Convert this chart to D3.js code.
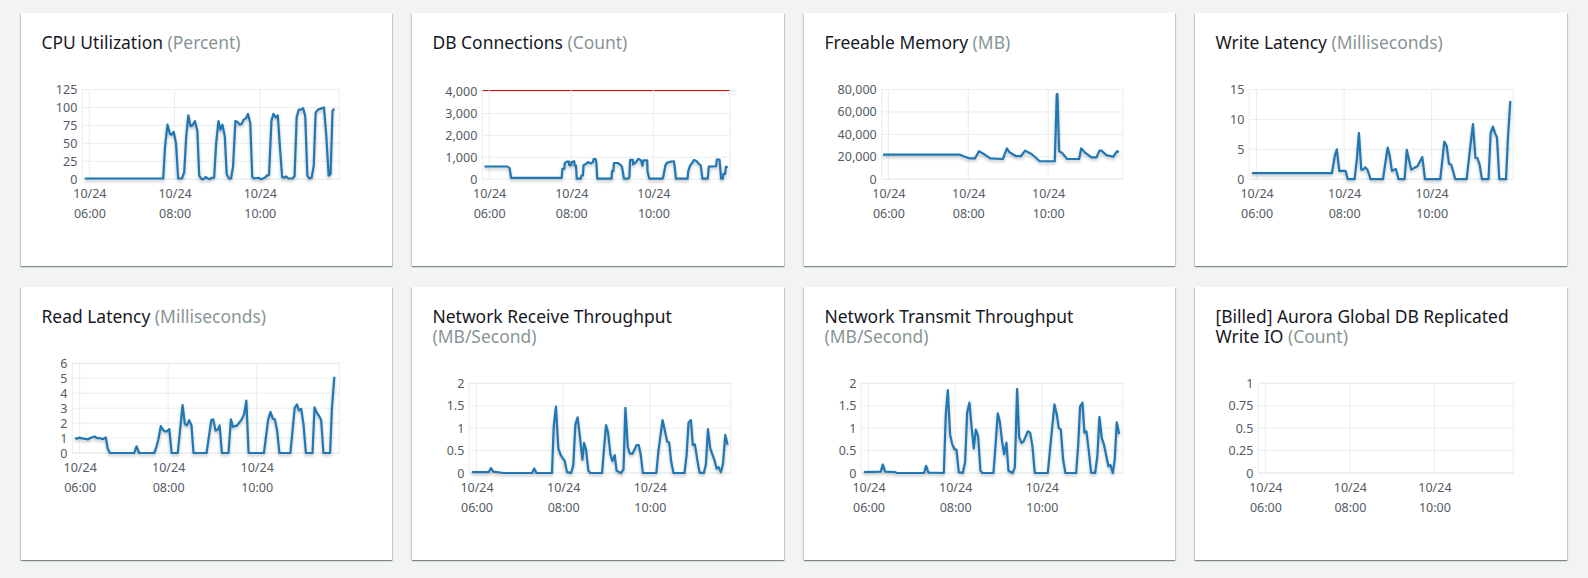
<!DOCTYPE html>
<html><head><meta charset="utf-8">
<script src="https://cdn.jsdelivr.net/npm/d3@7/dist/d3.min.js"></script>
<style>
html,body{margin:0;padding:0;background:#f2f3f3;width:1588px;height:578px;overflow:hidden}
body{position:relative;font-family:"Noto Sans",sans-serif}
.card{position:absolute;background:#fff;box-shadow:0 1px 1px 0 rgba(0,28,36,.3),1px 1px 1px 0 rgba(0,28,36,.15),-1px 1px 1px 0 rgba(0,28,36,.15)}
.title{position:absolute;left:20.5px;top:19px;width:335px;font-size:17.45px;line-height:20px;color:#16191f}
.title span{color:#879596}
svg{position:absolute;left:0;top:0}
.tick text{font-family:"Noto Sans",sans-serif;font-size:12.5px;fill:#545b64}
.domain{display:none}
.grid line{stroke:#eaeded;stroke-width:1}
.frame{fill:none;stroke:#eaeded;stroke-width:1}
.series{fill:none;stroke:#1f77b4;stroke-width:2.2;stroke-linejoin:round;filter:drop-shadow(0 2px 1.5px rgba(0,0,0,.25))}
.limit{stroke:#e00000;stroke-width:1}
</style></head><body>
<script>
// Time ticks, in minutes after 06:00 on 10/24
const xDomainMinutes = [-10, 352];
const xTickMinutes = [0, 120, 240];
const xTickDate = "10/24";

// Series: [minutes after 06:00, value]
const cpuPoints = [[-6.5,1],[104,1],[106.5,45],[110,76],[113.5,63],[116,62],[118.7,66],[122,50],[125,1],[130.4,1],[133.6,10],[136.4,60],[139.3,89],[142.5,74],[145.3,75],[148.6,81],[152,68],[154.7,5],[158,0],[160.7,0],[163.6,3],[167,1],[169.6,0],[172.4,2],[175.7,2],[178.5,50],[181.8,81],[184.6,69],[187.4,76],[190.7,60],[193.4,7],[196.7,1],[199.5,1],[202.3,17],[205.6,81],[208.4,80],[211.7,76],[214.5,77],[217.3,83],[220.6,85],[223.4,91],[226.6,78],[229.4,3],[232,1],[238,2],[241.6,0],[247,2],[250,5],[253,6],[256.5,82],[259.3,91],[262.6,86],[265.4,89],[268,50],[271.5,3],[274.3,2],[277,4],[280.4,1],[286,1],[289,4],[292,87],[295,97],[298,97],[301,99],[304,88],[307,5],[310,1],[313,2],[316,19],[318.7,93],[322,97],[325,98],[330.4,100],[333.6,62],[337,5],[339.7,7],[342.5,96],[345.3,98]];
const connPoints = [[-6.8,580],[26.8,580],[30,500],[32,60],[106,60],[107,470],[110,480],[110.5,730],[113.6,800],[116.6,800],[117,640],[120,640],[120.5,780],[124.4,820],[125,620],[127,620],[128,30],[134,30],[135,170],[137,170],[138,640],[141.5,700],[144.4,780],[149,720],[151.7,780],[152.7,920],[155.6,920],[156.6,780],[158,30],[179,30],[179.5,370],[181.5,370],[182.4,740],[188,740],[191,680],[194,580],[197,30],[204,30],[205,130],[206,880],[210,880],[210.5,680],[214.6,780],[218,930],[222,860],[224,620],[225.5,860],[231,860],[231.5,340],[234,30],[253.7,30],[254.6,130],[257.5,620],[259.5,740],[264,790],[270,820],[271,610],[273,30],[290,30],[291,370],[293.6,620],[296.6,740],[299.5,880],[303,830],[306,720],[309.3,620],[311.7,30],[319.5,30],[321,570],[331.7,590],[332.7,900],[336.6,900],[337.6,560],[339,30],[341.5,30],[342.4,240],[345,240],[345.9,560],[348.8,560]];
const connLimit = [[-10,4050],[352,4050]];
const memoryPoints = [[-8,22000],[107,22000],[113,20500],[122,18500],[130,18500],[136,25000],[144.6,22000],[153,18500],[172,18000],[178,27500],[182,24000],[192,20500],[199,20500],[205.4,25500],[215,22500],[227.5,16000],[250,16000],[253,76000],[254,76000],[256.5,25000],[261,23500],[268.5,18000],[286.6,18000],[289.6,27500],[295,24000],[305,19500],[312.6,19500],[317,25500],[320,25500],[327.6,21500],[337.6,20000],[343.6,25000],[346,24000]];
const writePoints = [[-6.4,1],[103.3,1],[107.4,4],[110,5],[113.4,1.4],[122,1.4],[125,0],[134.4,0],[137.6,3.5],[140.3,7.7],[143.5,1.6],[146,1.6],[149,2],[152,1.6],[156.3,0],[173.3,0],[179.7,5.3],[182.4,4],[185.6,1.4],[191,1.7],[194.7,0],[203,0],[206,4.9],[212,1.6],[220.8,2.2],[227.2,3.7],[230.9,0],[251.9,0],[257.4,6.3],[260.6,5.6],[263.8,2.6],[267,2.4],[272.5,0],[288,0],[294,6.5],[296.7,9.2],[300,3.6],[303,3.5],[305.9,2.4],[309,0],[318,0],[321,7.8],[324,8.8],[326.9,7.7],[329.6,7],[332.8,0],[342,0],[344.7,7],[347.9,13.1]];
const readPoints = [[-6.3,1],[-3.6,.95],[-.4,1.03],[3,.98],[7.6,.95],[11,.9],[14.3,1],[20,1.1],[23.3,1],[26.5,1],[29.6,.95],[32.3,.95],[35.4,1.05],[38,.3],[41,0],[74,0],[77,.45],[80.7,0],[101,0],[104,.4],[106.7,.9],[110,1.8],[113,1.55],[115.7,1.45],[118.4,1.45],[121.5,1.6],[124.7,0],[133,0],[139.5,3.2],[142.6,1.95],[145.3,1.85],[148.4,2.2],[151.6,1.85],[154.3,0],[172,0],[178.5,2.2],[181,2.25],[184.3,1.5],[187,1.55],[189.7,1.85],[192.8,0],[201.8,0],[205,2.25],[208,1.75],[213.5,1.85],[219.7,2.25],[222.9,2.6],[226,3.5],[229,0],[249.8,0],[255.6,2.25],[258.7,2.75],[261.9,2.3],[264.6,2.25],[267.7,1.5],[270.8,0],[285.7,0],[291.5,3],[294.6,3.25],[297.3,2.85],[300.4,2.95],[303.5,1.9],[306.7,0],[315.7,0],[318.4,3.05],[321.5,2.7],[324.2,2.5],[327.4,2.2],[330.5,0],[339.5,0],[342,3],[345.3,5.1]];
const receivePoints = [[-6.5,.02],[17,.02],[20,.11],[23,.03],[37.5,0],[77,0],[80,.1],[83,0],[104.5,0],[107,1.05],[110,1.48],[113.3,.55],[116,.42],[119.3,.33],[122,.28],[125.3,.02],[131,0],[134,.17],[136.9,1.08],[140,1.24],[142.9,.85],[146.6,.3],[149,.67],[151.7,.52],[154.9,.05],[157.7,0],[173.9,0],[176.6,.55],[179.4,1.07],[182.2,.9],[185.4,.42],[188.2,.27],[191.4,.4],[194,.05],[200,0],[203.5,.08],[206.2,1.45],[209.5,.58],[212.3,.43],[216,.43],[221.5,.62],[224.7,.62],[227.5,.4],[230.3,0],[249,0],[252,.5],[257.6,1.18],[260.8,.95],[264,.7],[266.8,.68],[269.6,.25],[272.8,0],[288,0],[290.9,.4],[293.6,1.12],[296.9,1.18],[299.6,.62],[302.4,.64],[305.7,.3],[308.9,.01],[314.9,0],[317.7,.2],[320.5,.98],[323.7,.55],[326.5,.42],[329.7,.28],[332.5,.1],[335.3,.13],[338.5,.02],[341.3,.2],[344.5,.85],[347.7,.63]];
const transmitPoints = [[-6.5,.02],[17,.03],[19.8,.19],[23,.03],[37,.02],[39,0],[77,0],[79.8,.16],[83,.01],[104.3,0],[107,1.3],[109.8,1.85],[113,.85],[115.8,.65],[119,.53],[121.8,.52],[125,.02],[130.6,0],[133.8,.25],[136.6,1.35],[139.8,1.57],[142.6,1.05],[145.8,.55],[148.6,.97],[151.8,.82],[155,.05],[157.8,0],[173,0],[175.8,.6],[179,1.33],[181.8,1.15],[185,.7],[187.8,.42],[191,.68],[193.8,.05],[199.4,0],[202.6,.12],[205.8,1.87],[208.6,.8],[211.8,.67],[214.6,.7],[220.6,.93],[223.8,.9],[227,.6],[230.3,0],[248.3,0],[251.5,.55],[257.5,1.53],[260.8,1.3],[263.5,1],[266.3,.97],[269.5,.3],[272.7,0],[287.5,0],[290.3,.6],[293,1.48],[296.3,1.57],[299,.9],[301.8,.93],[305,.5],[308.3,.01],[313.8,0],[317,.4],[319.8,1.25],[323,.78],[325.8,.65],[332.3,.15],[335,.18],[338.3,0],[341,.3],[343.8,1.13],[347,.87]];
const replicatedPoints = [];

const yTicksCpu = [0,25,50,75,100,125];
const yTicksConn = [0,1000,2000,3000,4000];
const yTicksMemory = [0,20000,40000,60000,80000];
const yTicksWrite = [0,5,10,15];
const yTicksRead = [0,1,2,3,4,5,6];
const yTicksMb = [0,.5,1,1.5,2];
const yTicksCount = [0,.25,.5,.75,1];

const charts = [
 {name:"CPU Utilization",unit:"(Percent)",data:cpuPoints,ticks:yTicksCpu,top:125,col:0,row:0,l:82.3,r:339.3,pt:89.5},
 {name:"DB Connections",unit:"(Count)",data:connPoints,limit:connLimit,ticks:yTicksConn,top:4095,col:1,row:0,l:482.3,r:730,pt:89.5},
 {name:"Freeable Memory",unit:"(MB)",data:memoryPoints,ticks:yTicksMemory,top:80000,col:2,row:0,l:881.7,r:1122.7,pt:89.5},
 {name:"Write Latency",unit:"(Milliseconds)",data:writePoints,ticks:yTicksWrite,top:15,col:3,row:0,l:1249.3,r:1513.3,pt:89.5},
 {name:"Read Latency",unit:"(Milliseconds)",data:readPoints,ticks:yTicksRead,top:6,col:0,row:1,l:72.3,r:339.3,pt:363.3},
 {name:"Network Receive Throughput",unit:"(MB/Second)",data:receivePoints,ticks:yTicksMb,top:2,col:1,row:1,l:469.3,r:730.7,pt:383.3},
 {name:"Network Transmit Throughput",unit:"(MB/Second)",data:transmitPoints,ticks:yTicksMb,top:2,col:2,row:1,l:861.3,r:1122.7,pt:383.3},
 {name:"[Billed] Aurora Global DB Replicated Write IO",unit:"(Count)",data:replicatedPoints,ticks:yTicksCount,top:1,col:3,row:1,l:1258.3,r:1513.3,pt:383.3}
];

const cardLeft=[21,412,804,1195], cardWidth=[371,372,371,372], cardTop=[13,287], cardHeight=[253,273];
const plotH = 89.7;
const body = d3.select("body");
charts.forEach(c=>{
  const t=body.append("div").attr("class","card")
    .style("left",cardLeft[c.col]+"px").style("top",cardTop[c.row]+"px")
    .style("width",cardWidth[c.col]+"px").style("height",cardHeight[c.row]+"px")
    .append("div").attr("class","title");
  t.append("text").text(c.name+" ");
  t.append("span").text(c.unit);
});
const svg = body.append("svg").attr("width",1588).attr("height",578);
const base = new Date(2021,9,24,6,0);
const toDate = m => new Date(base.getTime()+m*60000);
charts.forEach(c=>{
  const bottom=c.pt+plotH;
  const x=d3.scaleTime().domain(xDomainMinutes.map(toDate)).range([c.l,c.r]);
  const y=d3.scaleLinear().domain([0,c.top]).range([bottom,c.pt]);
  const g=svg.append("g");
  const line=d3.line().x(d=>x(toDate(d[0]))).y(d=>y(d[1]));
  if(c.limit) g.append("path").attr("class","limit").attr("fill","none").attr("d",line(c.limit));
  const grid=g.append("g").attr("class","grid");
  grid.selectAll(".h").data(c.ticks).join("line").attr("class","h")
    .attr("x1",c.l).attr("x2",c.r).attr("y1",d=>y(d)).attr("y2",d=>y(d));
  grid.selectAll(".v").data(xTickMinutes).join("line").attr("class","v")
    .attr("x1",d=>x(toDate(d))).attr("x2",d=>x(toDate(d))).attr("y1",c.pt).attr("y2",bottom);
  if(!c.limit) g.append("rect").attr("class","frame").attr("x",c.l).attr("y",c.pt).attr("width",c.r-c.l).attr("height",plotH);
  else {
    g.append("line").attr("class","frame").attr("x1",c.l).attr("x2",c.l).attr("y1",c.pt).attr("y2",bottom);
    g.append("line").attr("class","frame").attr("x1",c.r).attr("x2",c.r).attr("y1",c.pt).attr("y2",bottom);
  }
  const ya=d3.axisLeft(y).tickValues(c.ticks).tickSize(0).tickPadding(5).tickFormat(d3.format(","));
  g.append("g").attr("transform",`translate(${c.l},0)`).call(ya);
  const xa=d3.axisBottom(x).tickValues(xTickMinutes.map(toDate)).tickSize(0).tickFormat(()=>"" );
  const xg=g.append("g").attr("transform",`translate(0,${bottom})`).call(xa);
  const fmt=d3.timeFormat("%H:%M");
  xg.selectAll(".tick text").each(function(d){
    const s=d3.select(this).text(null).attr("y",0).attr("dy",null);
    s.append("tspan").attr("x",0).attr("y",19).text(xTickDate);
    s.append("tspan").attr("x",0).attr("y",39).text(fmt(d));
  });
  if(c.data.length) g.append("path").attr("class","series").attr("d",line(c.data));
});
</script>
</body></html>
